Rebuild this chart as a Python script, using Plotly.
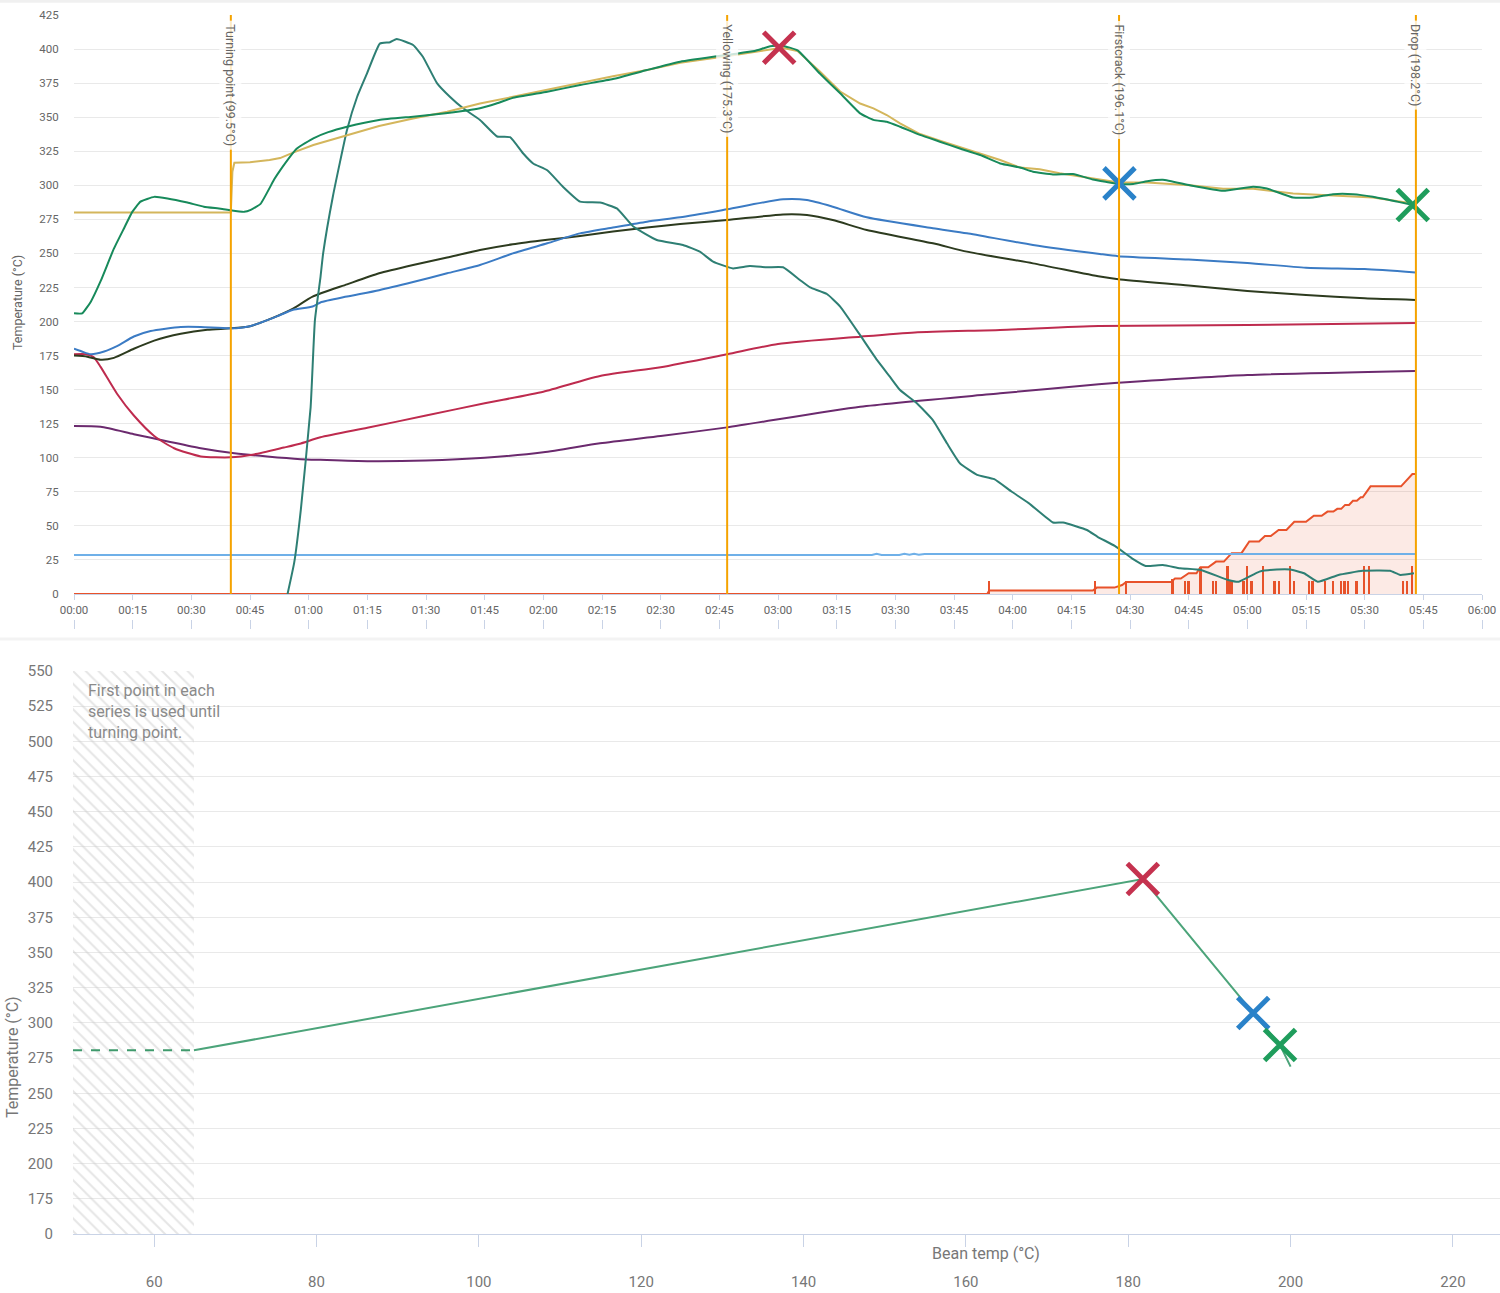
import plotly.graph_objects as go

# ---------------- data: top chart (time in seconds) ----------------
et_t = [0, 2.1, 4.3, 6.8, 10.2, 12.8, 14.9, 17, 20.5, 23.9, 29, 33.2, 37.5, 40, 43.5, 45.2, 47.7, 51.2,
        52.7, 57, 61.2, 65, 69.8, 78, 86.7, 95, 103.8, 108, 112, 121, 129.4, 137.8, 146.5, 155, 167.7,
        174, 178, 181, 185, 190.7, 195.9, 201, 204.4, 207.8, 211.2, 216.3, 221.4, 226.5, 231.7, 236.8,
        241.9, 245.2, 250.3, 255.4, 260.5, 264, 267.2, 270.8, 274.4, 278.4, 285.3, 293.8, 301.5, 305,
        311.7, 316.8, 321.9, 327, 332.1, 338.3, 342.4]
et_v = [206, 206, 214.6, 229.6, 253.5, 268.5, 280.5, 288, 291.5, 290.3, 287.3, 284.3, 282.8, 281.6, 280.5, 282, 286.4, 304.4,
        311, 327, 334.5, 339, 343, 348, 350.4, 352.8, 356.5, 360, 364, 368.7, 373.6, 378, 384.6, 390.7, 396,
        398.5, 402, 402.5, 399, 382, 367.5, 352.8, 348, 346.7, 343, 337, 332, 327, 322.2, 316,
        313, 310, 308, 308.3, 304.3, 302.5, 301, 301, 303, 304, 300, 296, 299, 297.7,
        291, 291, 293.5, 293.5, 291.6, 288, 285.5]

inlet_t = [0, 40.1, 40.5, 41, 45, 50, 52.7, 56, 61.2, 69.8, 78, 86.7, 95.4, 103.8, 112.2, 121, 129.4, 137.8,
           146.5, 155, 167.7, 178, 181, 185, 190.7, 195.9, 201, 204.4, 207.8, 211.2, 216.3, 221.4, 226.5,
           231.7, 236.8, 241.9, 246.9, 252, 257.2, 262.3, 267.2, 274.4, 285.3, 293.8, 301.5, 311.7, 321.9,
           332.1, 342.4]
inlet_v = [280, 280, 310, 316.5, 317, 318.5, 320, 324, 329.6, 337, 343.5, 349, 354, 360, 365, 370, 375, 380,
           384.6, 390, 395, 400, 401, 398.5, 383.5, 368.8, 360, 356.5, 351.6, 345.5, 337.6, 332.7, 328,
           323, 318.6, 313, 311.7, 308.8, 306.3, 304, 302, 302, 300, 297.5, 297.5, 294, 292.6,
           291, 286.6]

exhaust_t = [54.6, 56.3, 58, 60.5, 61.6, 63, 63.7, 66.2, 69.8, 72.4, 74.9, 78.2, 80.8, 82.5, 86.7, 89.2,
             92.8, 96.1, 99.5, 103.8, 108.2, 111.5, 114.8, 117.4, 121, 125, 129.4, 134.5, 138.8, 143, 149,
             155.7, 160, 163.4, 168.5, 172.8, 177.2, 181.3, 185.6, 188.2, 192.5, 195.9, 201, 205.3, 208.6,
             211.2, 215.5, 219.6, 223.2, 226.5, 230.9, 235.3, 239.7, 244.1, 250.3, 252.9, 259, 261.7, 266.1,
             270.5, 274, 278.4, 282.8, 288.1, 295.1, 297.8, 303.1, 307.5, 311, 314.5, 318, 323.3, 329.5,
             336.5, 339.1, 342.6]
exhaust_v = [0, 23, 62, 137, 201, 232, 250, 292, 340.6, 365, 382, 404, 405, 407.4, 403, 394.4,
             375, 365, 356.5, 348, 335.8, 335.3, 323.5, 316, 311, 299, 288, 287.3, 283, 269.7, 259.8,
             256.2, 251.3, 244, 239, 240.7, 239.8, 239.8, 230.5, 225, 220.2, 211, 190, 171.8, 159.5,
             149.7, 140, 127.7, 110.6, 96, 87.5, 84.3, 75.2, 66.7, 52.5, 52.5, 47, 42, 35.3,
             26.2, 20.6, 21.3, 18.9, 17.6, 10.3, 9, 16.4, 18, 18, 15.2, 9, 14, 17,
             17, 14, 15.2]

drum_t = [0, 2, 4.3, 7.7, 11, 15.3, 19.6, 27.3, 32.4, 40, 45, 49.4, 52.7, 56, 61, 63, 69.8, 78, 86.7, 95.4,
          103.8, 112.2, 121, 129.4, 137.8, 146.5, 155, 167, 181.3, 187.4, 194, 202.7, 219.6, 228.3, 245.2,
          262.3, 267, 285, 300, 315, 330, 343]
drum_v = [180, 178, 176, 178, 182, 189, 193, 196, 196, 195, 196.6, 201, 204.8, 208.6, 211, 214, 218.3, 223, 229, 235.4,
          241.5, 250, 257.4, 264.7, 269, 273.3, 276.5, 282.4, 289.7, 289.2, 284.3, 276.5, 268.5, 264.8, 256.2,
          249.6, 248, 245.5, 243, 239.5, 238.5, 236]

env_t = [0, 3.4, 6.8, 10.2, 15.3, 20.5, 27.3, 34.1, 40, 45, 49.4, 56, 61, 69.8, 78, 86.7, 95.4, 103.8, 112.2,
         121, 129.4, 137.8, 146.5, 155, 167, 181.3, 187.4, 194, 202.7, 219.6, 228.3, 245.2, 262.3, 267, 285,
         300, 315, 330, 343]
env_v = [175, 174.2, 172, 173.3, 180, 186, 191, 194, 195, 196.6, 201, 209.5, 218.3, 227.3, 235.4, 241.5, 247, 252.5, 256.7,
         260, 262.8, 266, 269, 271.6, 274.5, 278.6, 278.2, 274.5, 267.2, 257.4, 251.3, 242.7, 233, 231, 226.5,
         222.5, 219.5, 217, 215.8]

bean_t = [0, 3, 5, 6.8, 11, 15.3, 20.5, 25.6, 32.4, 40, 46, 53.7, 58, 63, 75, 90, 105, 120, 134.5, 150, 167,
          180, 201, 215, 236.8, 262, 300, 343]
bean_v = [176, 176, 174, 166.7, 147, 131, 116, 107, 101, 100.3, 102.4, 107.5, 110.5, 115, 122, 131, 140, 148.5, 160, 166.5, 176,
          183.5, 188.9, 192, 193.8, 196.7, 197.4, 199]

board_t = [0, 6.8, 15.3, 24, 32.4, 41, 49.4, 58, 63, 75, 90, 105, 120, 134.5, 150, 167, 201, 236.8, 262, 270, 300, 343]
board_v = [123.3, 122.7, 117.3, 112, 107, 103.3, 100.9, 99, 98.5, 97.5, 98, 100, 104, 110.6, 116, 122.3, 137.5, 147.3, 154, 155.6, 160.7, 163.7]

ambient_t = [0, 204, 205.2, 206.5, 211, 212.3, 213.6, 214.8, 216, 217.5, 219, 343]
ambient_v = [28.6, 28.6, 29.6, 28.7, 28.7, 29.5, 28.8, 29.5, 28.8, 29.4, 29.3, 29.3]

power_t = [0, 233.5, 234, 260.5, 261.5, 266, 268, 269, 280.5, 281.5, 283, 285, 287, 288, 290, 292, 294, 296,
           298.5, 300.5, 303, 304.5, 306, 308, 310, 312, 315, 317, 319, 320.5, 322, 323, 324, 325, 326, 327,
           328, 329, 329.5, 331.5, 339.3, 341, 342.2, 343]
power_v = [0, 0, 2.5, 2.5, 4.7, 4.7, 6.6, 8.8, 8.8, 11.3, 11.3, 15.2, 15.2, 19.6, 19.6, 23.8, 23.8, 30,
           30, 38.5, 38.5, 42.6, 42.6, 47, 47, 53, 53, 57.4, 57.4, 60.5, 60.5, 62.5, 62.5, 65.4, 65.4, 68.4,
           68.4, 71, 71, 79, 79, 84, 88, 88]

spike_t = [234, 261.1, 269, 280.9, 284.2, 285, 288.1, 291.2, 292.1, 295, 295.6, 296.2, 299.1, 300, 301.1,
           304, 307, 308.1, 311, 312, 315.8, 316.7, 320, 322, 324, 324.9, 325.8, 328, 329.9, 331.2,
           339.9, 340.9, 342.1]
spike_h = [9.8, 9.8, 9.8, 10.8, 9.8, 9.8, 20, 9.8, 9.8, 20.6, 9.8, 9.8, 9.8, 20.6, 9.8,
           20.6, 9.8, 9.8, 20.6, 9.8, 9.8, 9.8, 9.8, 9.8, 9.8, 9.8, 9.8, 9.8, 20.6, 20.6,
           9.8, 9.8, 20.6]

event_names = ["Turning point (99.5°C)", "Yellowing (175.3°C)", "Firstcrack (196.1°C)", "Drop (198.2°C)"]
event_t = [40.1, 167, 267.2, 343.1]

mark_t = [180.3, 267.3, 342.3]
mark_v = [401, 301.4, 285.5]
mark_colors = ["#c5324f", "#2a82c9", "#1f9d5c"]

time_ticks = list(range(0, 361, 15))
time_labels = ["%02d:%02d" % (s // 60, s % 60) for s in time_ticks]
temp_ticks = list(range(0, 426, 25))

# ---------------- data: bottom chart ----------------
pre_bt = [50, 64.9]
pre_et = [280.5, 280.5]
curve_bt = [64.9, 181.8, 195.4, 198.7, 200.0]
curve_et = [280.5, 402.2, 307, 284.3, 268.9]
mark_bt = [181.8, 195.4, 198.7]
mark_et = [402.2, 307, 284.3]
hatch_bt = [50, 64.9]
bot_ticks = [150, 175, 200, 225, 250, 275, 300, 325, 350, 375, 400, 425, 450, 475, 500, 525, 550]
bot_labels = ["0"] + [str(v) for v in bot_ticks[1:]]
bt_ticks = [60, 80, 100, 120, 140, 160, 180, 200, 220]

FONT = "Roboto"
fig = go.Figure()

# hatched region (bottom)
fig.add_trace(go.Scatter(
    x=[hatch_bt[0], hatch_bt[1], hatch_bt[1], hatch_bt[0], hatch_bt[0]],
    y=[150, 150, 551, 551, 150], xaxis="x2", yaxis="y2", mode="lines",
    line=dict(width=0), fill="toself", fillcolor="rgba(0,0,0,0)",
    fillpattern=dict(shape="\\", fgcolor="#cccccc", bgcolor="rgba(0,0,0,0)", size=9, solidity=0.22),
    hoverinfo="skip", showlegend=False))

# top chart traces
fig.add_trace(go.Scatter(x=power_t, y=power_v, mode="lines", line=dict(color="#e8522b", width=2),
                         fill="tozeroy", fillcolor="rgba(232,82,43,0.12)", cliponaxis=False, showlegend=False))
fig.add_trace(go.Bar(x=spike_t, y=spike_h, width=0.45, marker=dict(color="#e8522b", line=dict(width=0)),
                     showlegend=False))
fig.add_trace(go.Scatter(x=ambient_t, y=ambient_v, mode="lines", line=dict(color="#6fb0e8", width=2), showlegend=False))
fig.add_trace(go.Scatter(x=board_t, y=board_v, mode="lines", line=dict(color="#6b2a6e", width=2, shape="spline", smoothing=0.6), showlegend=False))
fig.add_trace(go.Scatter(x=bean_t, y=bean_v, mode="lines", line=dict(color="#be2b4e", width=2, shape="spline", smoothing=0.6), showlegend=False))
fig.add_trace(go.Scatter(x=env_t, y=env_v, mode="lines", line=dict(color="#2d3b1f", width=2, shape="spline", smoothing=0.6), showlegend=False))
fig.add_trace(go.Scatter(x=drum_t, y=drum_v, mode="lines", line=dict(color="#3b7bc4", width=2, shape="spline", smoothing=0.6), showlegend=False))
fig.add_trace(go.Scatter(x=exhaust_t, y=exhaust_v, mode="lines", line=dict(color="#2e7f74", width=2, shape="spline", smoothing=0.4), showlegend=False))
fig.add_trace(go.Scatter(x=inlet_t, y=inlet_v, mode="lines", line=dict(color="#d4b65c", width=2), showlegend=False))
fig.add_trace(go.Scatter(x=et_t, y=et_v, mode="lines", line=dict(color="#178a5b", width=2, shape="spline", smoothing=0.4), showlegend=False))

# helper axis for second row of ticks under top labels
fig.add_trace(go.Scatter(x=[0], y=[-100], xaxis="x3", yaxis="y", mode="markers",
                         marker=dict(size=1, opacity=0), hoverinfo="skip", showlegend=False))

# markers top
fig.add_trace(go.Scatter(x=mark_t, y=mark_v, mode="markers",
                         marker=dict(symbol="x-thin", size=31, line=dict(width=5, color=mark_colors)),
                         showlegend=False))

# bottom line
fig.add_trace(go.Scatter(x=pre_bt, y=pre_et, xaxis="x2", yaxis="y2", mode="lines",
                         line=dict(color="#3f9a6c", width=2, dash="dash"), showlegend=False))
fig.add_trace(go.Scatter(x=curve_bt, y=curve_et, xaxis="x2", yaxis="y2", mode="lines",
                         line=dict(color="#4ca47a", width=2), showlegend=False))
fig.add_trace(go.Scatter(x=mark_bt, y=mark_et, xaxis="x2", yaxis="y2", mode="markers",
                         marker=dict(symbol="x-thin", size=31, line=dict(width=5, color=mark_colors)),
                         showlegend=False))

shapes = []
annotations = []
for name, t in zip(event_names, event_t):
    shapes.append(dict(type="line", xref="x", yref="y", x0=t, x1=t, y0=0, y1=425,
                       line=dict(color="#f5a300", width=2), layer="above"))
    annotations.append(dict(x=t, y=425, xref="x", yref="y", text=name, textangle=90,
                            showarrow=False, yanchor="top", xanchor="center", yshift=-5,
                            font=dict(family=FONT, size=12.5, color="#666"),
                            bgcolor="rgba(255,255,255,0.78)", borderpad=3))

shapes.append(dict(type="line", xref="paper", yref="paper", x0=0, x1=1, y0=(1293 - 639) / 1293,
                   y1=(1293 - 639) / 1293, line=dict(color="#f3f3f3", width=3)))
shapes.append(dict(type="line", xref="paper", yref="paper", x0=0, x1=1, y0=0.999, y1=0.999,
                   line=dict(color="#f0f0f0", width=3)))

annotations += [
    dict(x=17 / 1500, y=(1293 - 303) / 1293, xref="paper", yref="paper", text="Temperature (°C)",
         textangle=-90, showarrow=False, xanchor="center", yanchor="middle",
         font=dict(family=FONT, size=12.5, color="#666")),
    dict(x=12 / 1500, y=(1293 - 1057) / 1293, xref="paper", yref="paper", text="Temperature (°C)",
         textangle=-90, showarrow=False, xanchor="center", yanchor="middle",
         font=dict(family=FONT, size=16, color="#777")),
    dict(x=986 / 1500, y=(1293 - 1253) / 1293, xref="paper", yref="paper", text="Bean temp (°C)",
         showarrow=False, xanchor="center", yanchor="middle", font=dict(family=FONT, size=16, color="#777")),
    dict(x=51.6, y=544, xref="x2", yref="y2", text="First point in each<br>series is used until<br>turning point.",
         showarrow=False, xanchor="left", yanchor="top", align="left",
         font=dict(family=FONT, size=16, color="#8a8a8a")),
]

axis_line = "#c9d3e6"
fig.update_layout(
    width=1500, height=1293, margin=dict(l=0, r=0, t=0, b=0, pad=0, autoexpand=False),
    paper_bgcolor="white", plot_bgcolor="white", bargap=0,
    font=dict(family=FONT, color="#666"),
    xaxis=dict(domain=[74 / 1500, 1482 / 1500], range=[0, 360], tickvals=time_ticks, ticktext=time_labels,
               showgrid=False, zeroline=False, showline=True, linecolor=axis_line, linewidth=1,
               ticks="outside", ticklen=5, tickcolor=axis_line, tickfont=dict(size=11.5, color="#666"),
               anchor="y", automargin=False, layer="below traces"),
    yaxis=dict(domain=[(1293 - 594) / 1293, (1293 - 15) / 1293], range=[0, 425], tickvals=temp_ticks,
               gridcolor="#e9e9e9", zeroline=False, showline=False, ticks="outside", ticklen=12,
               tickcolor="rgba(0,0,0,0)", tickfont=dict(size=11.5, color="#666"), anchor="x",
               automargin=False, layer="below traces"),
    xaxis3=dict(overlaying="x", anchor="free", position=(1293 - 619) / 1293, range=[0, 360],
                tickvals=time_ticks, showticklabels=False, showgrid=False, zeroline=False, showline=False,
                ticks="outside", ticklen=9, tickcolor=axis_line, automargin=False),
    xaxis2=dict(domain=[73 / 1500, 1.0], range=[50, 225.8], tickvals=bt_ticks, showgrid=False,
                zeroline=False, showline=True, linecolor=axis_line, linewidth=1, ticks="outside",
                ticklen=12, tickcolor=axis_line, tickfont=dict(size=15, color="#777"),
                ticklabelstandoff=22, anchor="y2", automargin=False),
    yaxis2=dict(domain=[(1293 - 1234) / 1293, (1293 - 671) / 1293], range=[150, 550], tickvals=bot_ticks,
                ticktext=bot_labels, gridcolor="#e9e9e9", zeroline=False, showline=False,
                ticks="outside", ticklen=16, tickcolor="rgba(0,0,0,0)",
                tickfont=dict(size=15, color="#777"), anchor="x2", automargin=False),
    shapes=shapes, annotations=annotations,
)

fig.write_html("out.html", config={"displayModeBar": False},
               post_script="document.body.style.margin='0';document.body.style.padding='0';")
